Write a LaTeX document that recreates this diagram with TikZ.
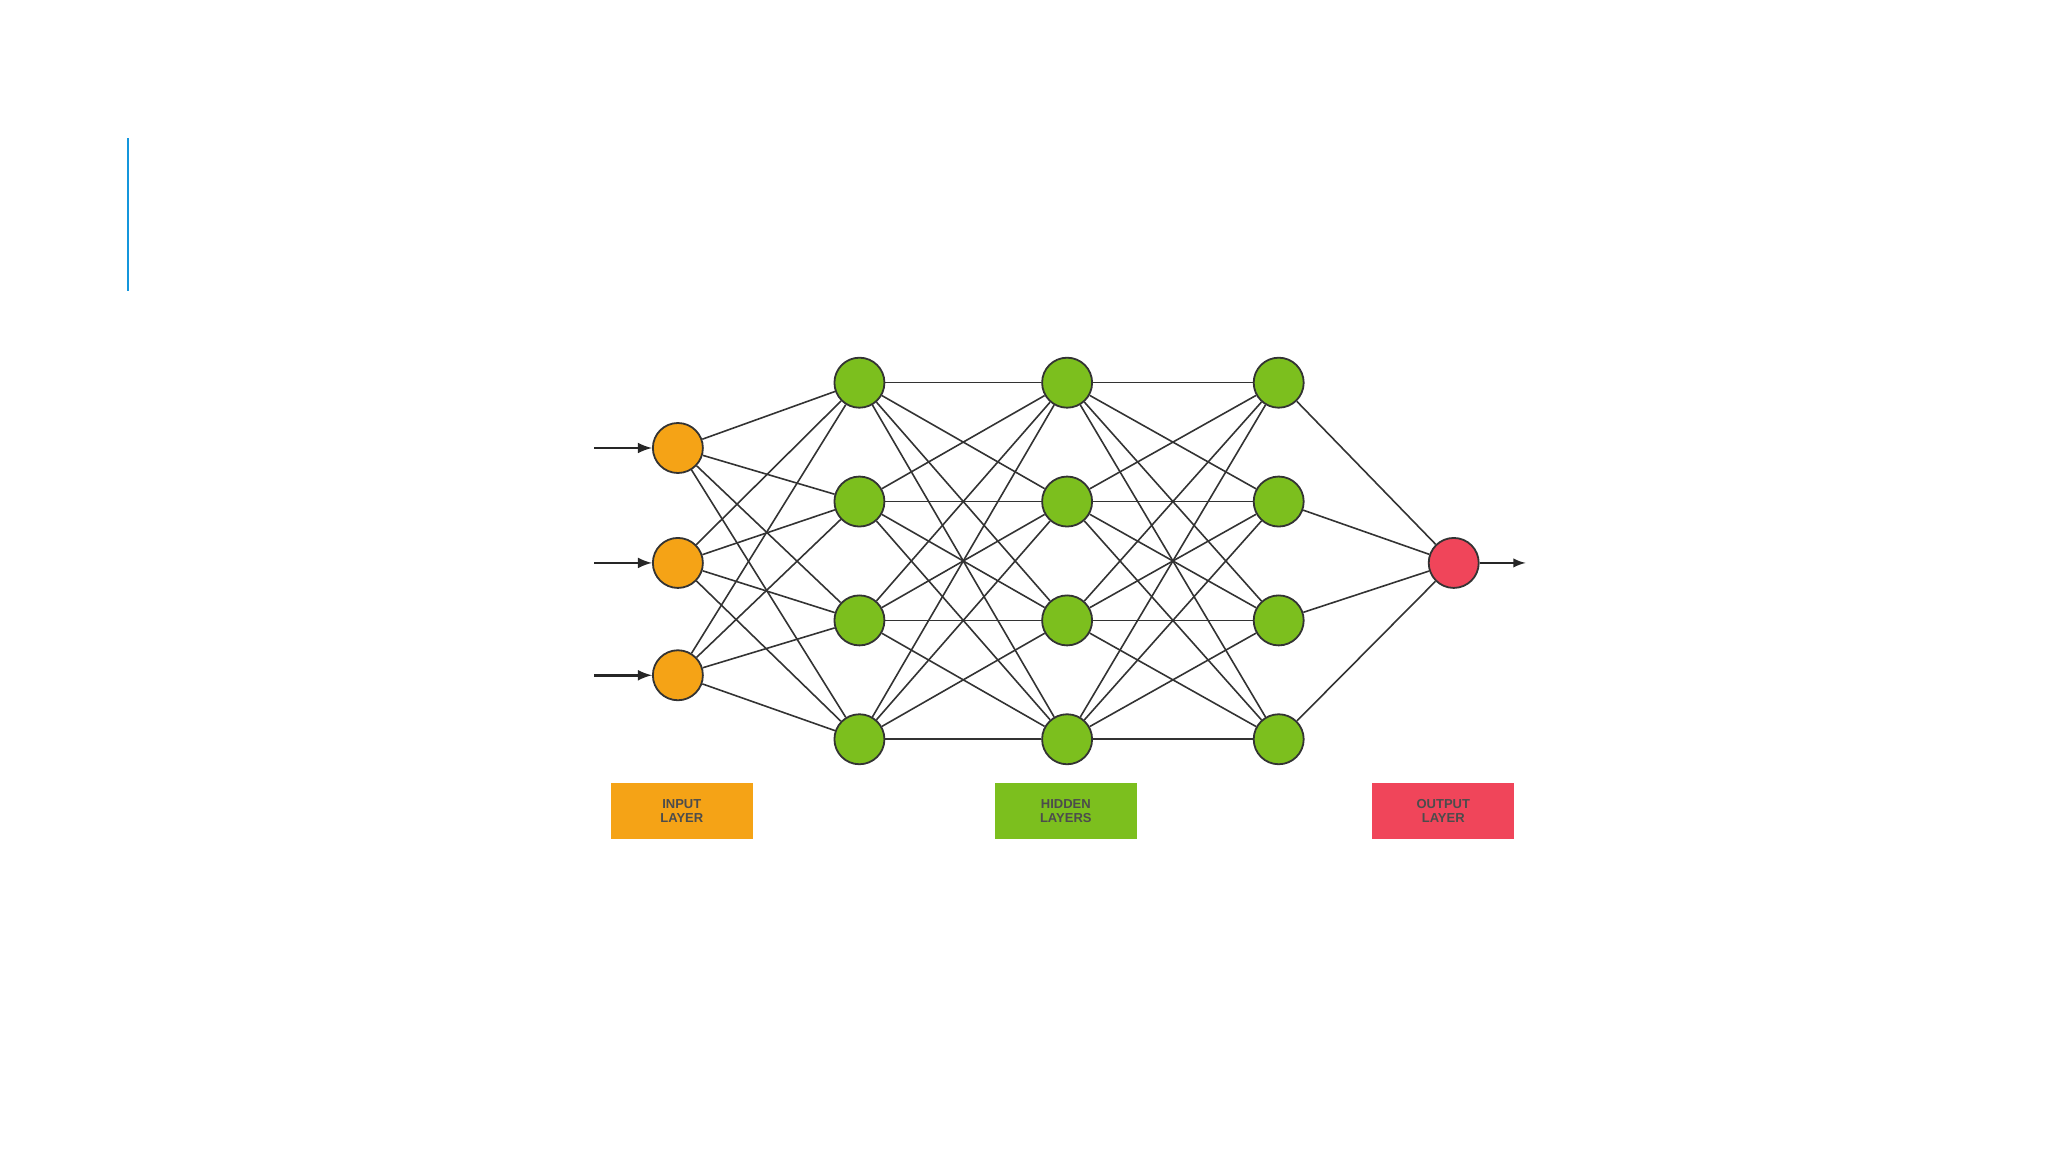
\documentclass[tikz,border=0pt]{standalone}
\usepackage{fontspec}
\setmainfont{Liberation Sans}
\begin{document}
\begin{tikzpicture}[x=0.653pt,y=-0.653pt,
  neuron/.style={circle,draw=black!80,line width=0.9pt,minimum size=25pt,inner sep=0pt},
  edge/.style={draw=black!80,line width=0.8pt},
  arr/.style={draw=black!85,line width=1.4pt,-latex},
  lab/.style={minimum width=71pt,minimum height=28pt,inner sep=0pt,align=center,font=\bfseries\fontsize{6.5}{7}\selectfont,text=black!70}]
\definecolor{hg}{HTML}{7CBF1E}
\definecolor{og}{HTML}{F5A316}
\definecolor{rg}{HTML}{F0455A}
\useasboundingbox (0,0) rectangle (1568,882);
\draw[draw={rgb,255:red,20;green,150;blue,220},line width=1.3pt] (98,106) -- (98,223);
\foreach \i/\y in {1/343,2/431,3/517} {
  \node[neuron,fill=og] (i\i) at (519,\y) {};
  \coordinate (s\i) at (455,\y);
}
\foreach \l/\x in {1/658,2/817,3/979} {
  \foreach \j/\y in {1/293,2/384,3/475,4/566} {
    \node[neuron,fill=hg] (h\l\j) at (\x,\y) {};
  }
}
\node[neuron,fill=rg] (o) at (1113,431) {};
\coordinate (e) at (1168,431);
\foreach \i in {1,2,3} { \foreach \j in {1,2,3,4} { \draw[edge] (i\i) -- (h1\j); } }
\foreach \a/\b in {1/2,2/3} { \foreach \i in {1,2,3,4} { \foreach \j in {1,2,3,4} { \draw[edge] (h\a\i) -- (h\b\j); } } }
\foreach \j in {1,2,3,4} { \draw[edge] (h3\j) -- (o); }
\foreach \i in {1,2,3} { \draw[arr] (s\i) -- (i\i); }
\draw[draw=black!85,line width=1.1pt,-latex] (o) -- (e);
\node[lab,fill=og] (li) at (522,621) {INPUT\\LAYER};
\node[lab,fill=hg] (lh) at (816,621) {HIDDEN\\LAYERS};
\node[lab,fill=rg] (lo) at (1105,621) {OUTPUT\\LAYER};
\end{tikzpicture}
\end{document}
